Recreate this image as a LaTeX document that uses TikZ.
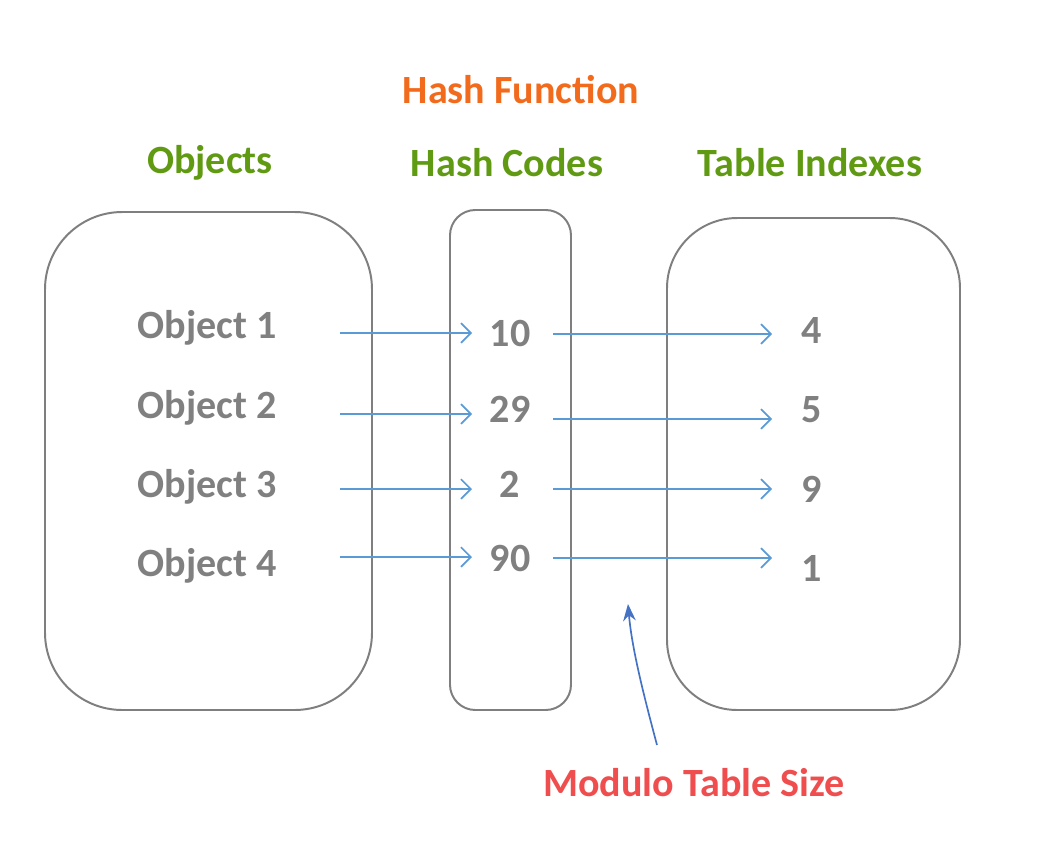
\documentclass[tikz,border=0pt]{standalone}
\usepackage{fontspec}
\setmainfont{Carlito}
\usetikzlibrary{arrows.meta}
\definecolor{boxgray}{HTML}{7F7F7F}
\definecolor{textgray}{HTML}{808080}
\definecolor{headgreen}{HTML}{5F9A12}
\definecolor{hashorange}{HTML}{F26B1D}
\definecolor{modred}{HTML}{F04E4E}
\definecolor{arrowblue}{HTML}{5B9BD5}
\definecolor{curveblue}{HTML}{4472C4}
\tikzset{
  head/.style={font=\bfseries\fontsize{28.5}{32}\selectfont, text=headgreen},
  item/.style={font=\bfseries\fontsize{28.5}{32}\selectfont, text=textgray},
  panel/.style={draw=boxgray, line width=1.4pt},
  map/.style={arrowblue, line width=1.2pt, -{Straight Barb[length=7pt,width=14pt]}},
}
\begin{document}
\begin{tikzpicture}[x=0.025cm,y=-0.025cm]
        \useasboundingbox (0,0) rectangle (1041,848);
        % Boxes
        \draw[panel, rounded corners=55] (45,212) rectangle (372,710);
        \draw[panel, rounded corners=18] (450,210) rectangle (571,710);
        \draw[panel, rounded corners=50] (667,218) rectangle (960,710);
        
        % Titles
        \node[head, text=hashorange] (hashfn) at (521,90) {Hash Function};
        \node[head] (objects) at (210,163) {Objects};
        \node[head] (codes) at (507,163) {Hash Codes};
        \node[head] (indexes) at (810,163) {Table Indexes};
        
        % Entries
        \foreach \i/\o/\h/\t/\yo/\yh/\yt in {1/Object 1/10/4/328/333/330, 2/Object 2/29/5/408/409/410,
                                              3/Object 3/2/9/487/484/489, 4/Object 4/90/1/566/558/568} {
            \node[item] (obj\i) at (207,\yo) {\o};
            \node[item] (code\i) at (510,\yh) {\h};
            \node[item] (idx\i) at (812,\yt) {\t};
        }
        
        % Arrows
        \foreach \i/\ya/\yb in {1/333/334, 2/414/419, 3/489/489, 4/557/558} {
            \coordinate (la\i) at (340,\ya);
            \coordinate (lb\i) at (472,\ya);
            \coordinate (ra\i) at (553,\yb);
            \coordinate (rb\i) at (772,\yb);
            \draw[map] (la\i) -- (lb\i);
            \draw[map] (ra\i) -- (rb\i);
        }
        
        % Modulo
        \node[head, text=modred] (modulo) at (694,783) {Modulo Table Size};
        \coordinate (mstart) at (657,745);
        \coordinate (mend) at (628,604);
        \draw[curveblue, line width=1.2pt, -{Stealth[length=12pt,width=9pt]}]
            (mstart) .. controls (645,700) and (632,650) .. (mend);
\end{tikzpicture}
\end{document}
